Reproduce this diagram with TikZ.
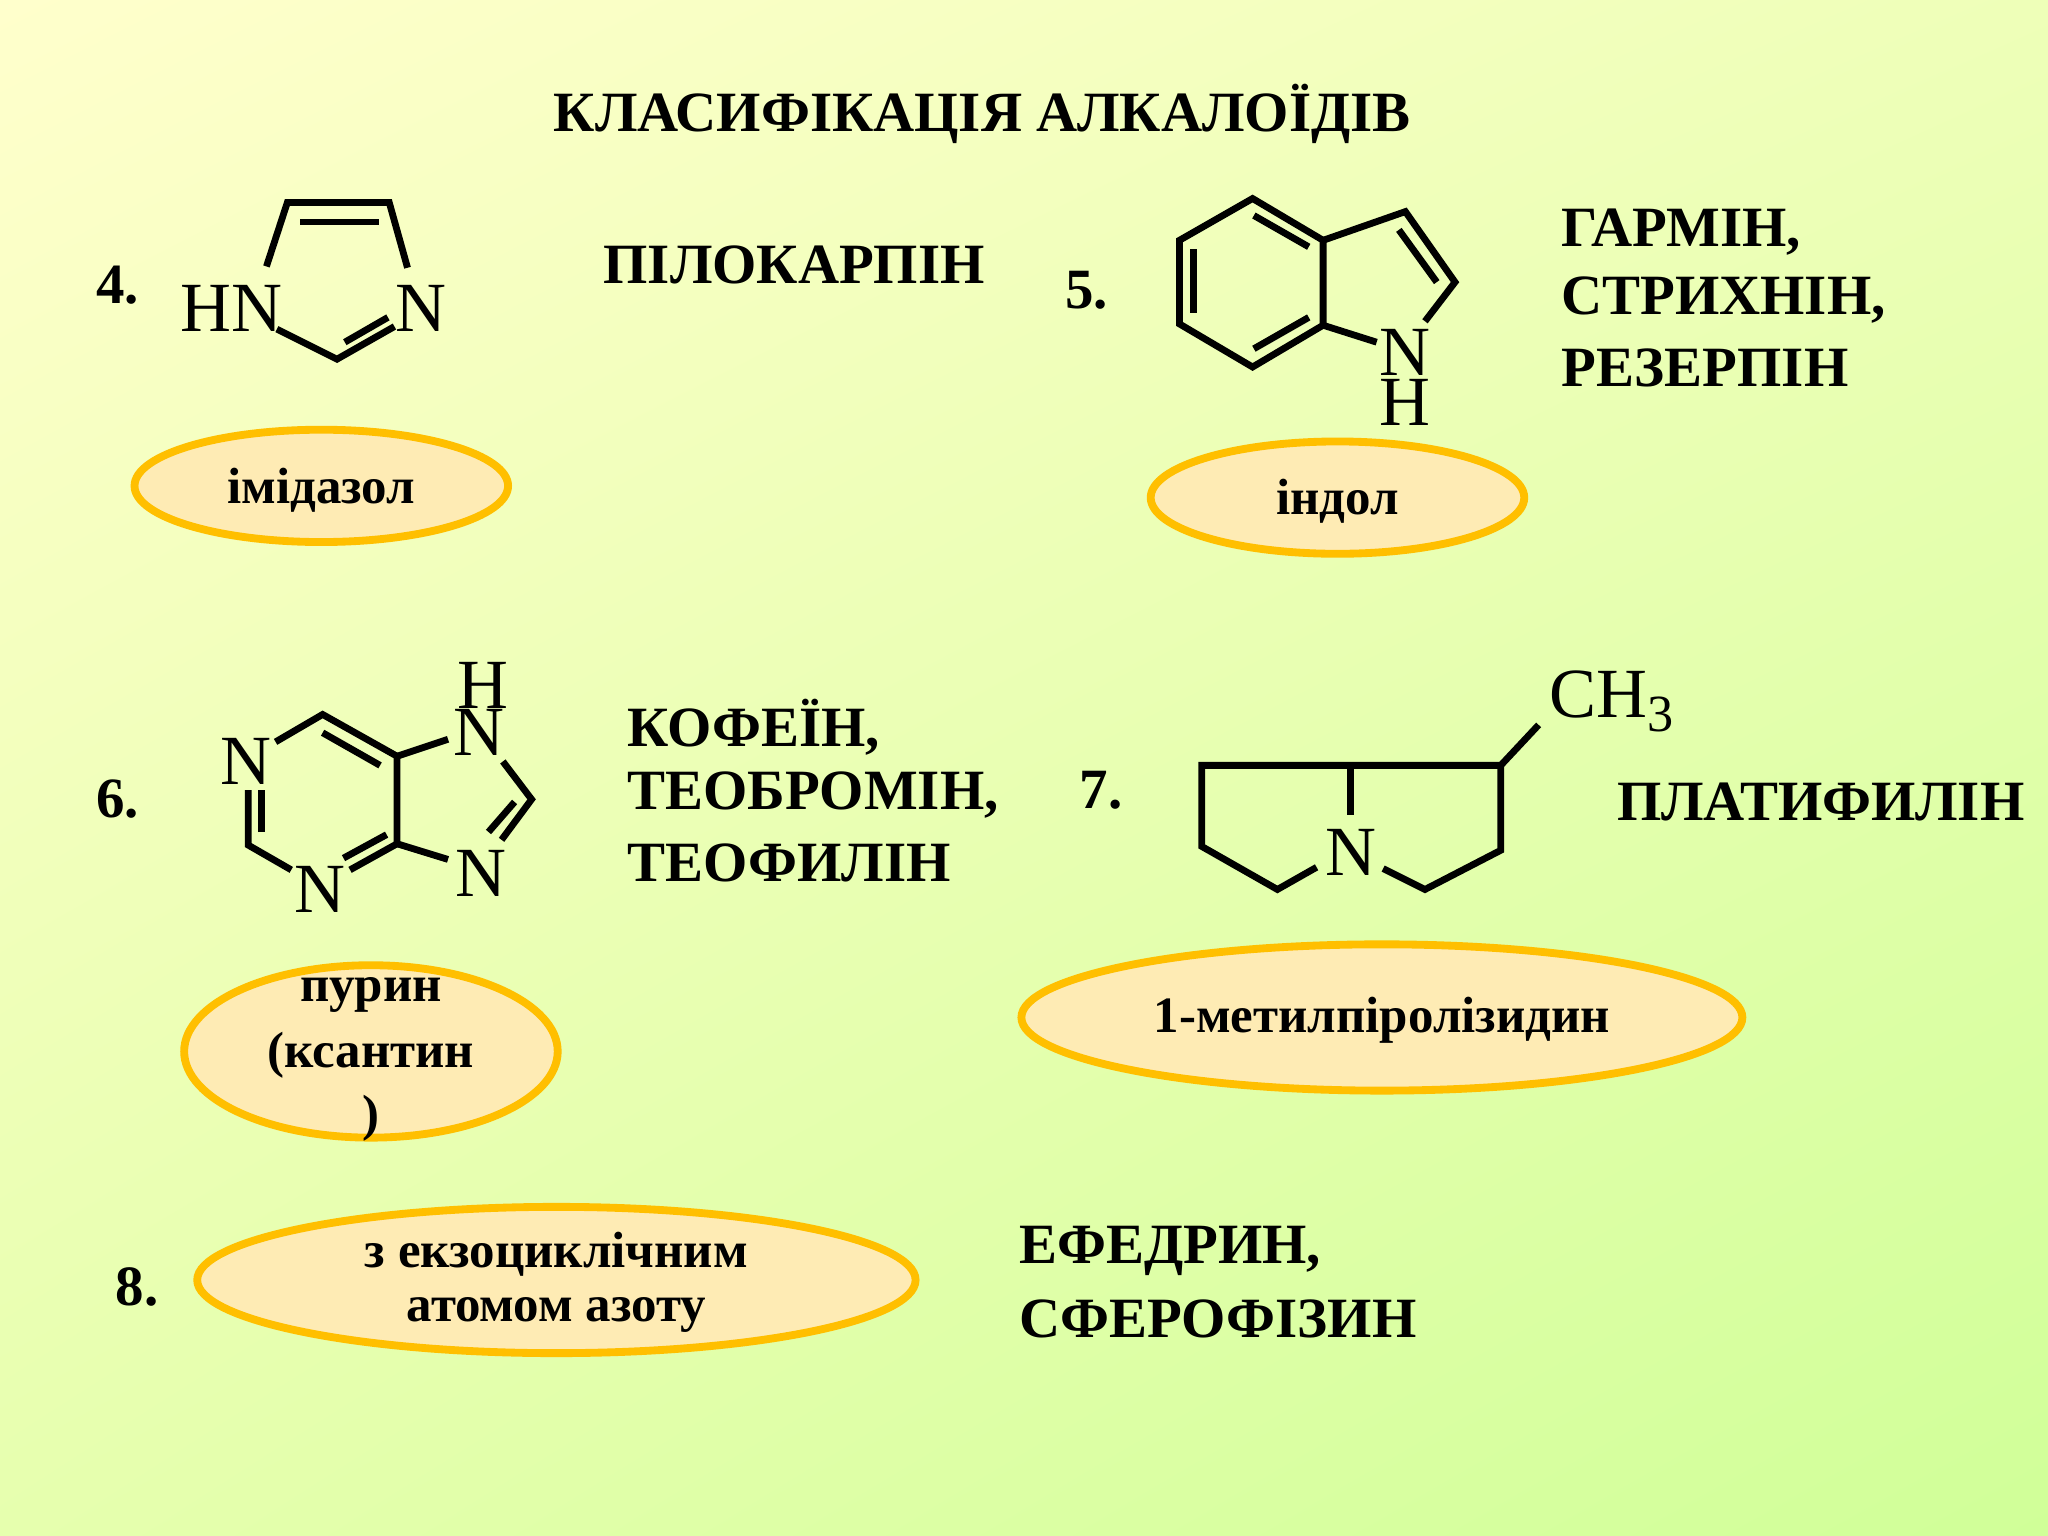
\documentclass[tikz,border=0pt]{standalone}
\usepackage{fontspec}
\setmainfont{Liberation Serif}
\usetikzlibrary{shadings}
\begin{document}
\begin{tikzpicture}[x=0.5pt,y=-0.5pt,
  bd/.style={line width=2.6pt},
  lbl/.style={font=\bfseries\fontsize{21.8}{24}\selectfont,inner sep=0pt},
  lbll/.style={lbl,anchor=west},
  atm/.style={font=\fontsize{27}{28}\selectfont,inner sep=0pt},
  ell/.style={draw=elline,fill=elfill,line width=3pt},
  etx/.style={font=\bfseries\fontsize{19.5}{22}\selectfont,inner sep=0pt}]
\definecolor{elfill}{HTML}{FEEBB4}\definecolor{elline}{HTML}{FFBF00}
\definecolor{bgA}{HTML}{FFFFCC}\definecolor{bgB}{HTML}{EEFFB8}
\definecolor{bgC}{HTML}{E6FFAE}\definecolor{bgD}{HTML}{D0FF98}
\shade[upper left=bgA,upper right=bgB,lower left=bgC,lower right=bgD] (0,0) rectangle (1568,1176);
\useasboundingbox (0,0) rectangle (1568,1176);
\node[lbl] (title) at (752,87) {КЛАСИФІКАЦІЯ АЛКАЛОЇДІВ};
% 4 imidazole
\node[lbl] (n4) at (90,218) {4.};
\node[atm] (hn) at (177,236) {HN};
\node[atm] (n3) at (322,236) {N};
\coordinate (i1) at (220,155);\coordinate (i2) at (298,155);\coordinate (i3) at (258,275);
\draw[bd] (204,204) -- (i1) -- (i2) -- (312,205);
\draw[bd] (230,170) -- (290,170);
\draw[bd] (212,252) -- (i3) -- (302,250);
\draw[bd] (264,262) -- (297,243);
\node[lbl] (pil) at (608,203) {ПІЛОКАРПІН};
\draw[ell] (246,372) ellipse [x radius=143,y radius=43];
\node[etx] (e1) at (246,375) {імідазол};
% 5 indole
\node[lbl] (n5) at (832,222) {5.};
\coordinate (b1) at (959,152);\coordinate (b2) at (1013,184);\coordinate (b3) at (1013,249);
\coordinate (b4) at (959,281);\coordinate (b5) at (903,248);\coordinate (b6) at (903,184);
\coordinate (p3) at (1076,162);\coordinate (p2) at (1114,216);
\draw[bd,line join=miter] (b2) -- (b1) -- (b6) -- (b5) -- (b4) -- (b3) -- cycle;
\draw[bd] (b2) -- (p3) -- (p2) -- (1091,246);
\draw[bd] (b3) -- (1054,262);
\draw[bd] (960,165) -- (1002,189);
\draw[bd] (914,191) -- (914,240);
\draw[bd] (960,267) -- (1002,243);
\draw[bd] (1071,176) -- (1100,216);
\node[atm] (in) at (1076,270) {N};
\node[atm] (ih) at (1076,308) {H};
\node[lbll] (g1) at (1195,178) {ГАРМІН,};
\node[lbll] (g2) at (1195,230) {СТРИХНІН,};
\node[lbll] (g3) at (1195,282) {РЕЗЕРПІН};
\draw[ell] (1024,381) ellipse [x radius=143,y radius=43];
\node[etx] (e2) at (1024,384) {індол};
% 6 purine
\node[lbl] (n6) at (90,612) {6.};
\node[atm] (pn1) at (188,583) {N};
\node[atm] (pn3) at (245,681) {N};
\node[atm] (pn7) at (367,561) {N};
\node[atm] (ph) at (370,525) {H};
\node[atm] (pn9) at (368,669) {N};
\coordinate (c2) at (190,647);\coordinate (c4) at (304,646);
\coordinate (c5) at (304,579);\coordinate (c6) at (247,547);\coordinate (c8) at (407,612);
\draw[bd] (211,568) -- (c6) -- (c5) -- (c4) -- (268,666);
\draw[bd] (247,561) -- (291,586);
\draw[bd] (263,657) -- (296,639);
\draw[bd] (223,666) -- (c2) -- (190,605);
\draw[bd] (200,637) -- (200,605);
\draw[bd] (c5) -- (343,566);
\draw[bd] (385,583) -- (c8) -- (384,643);
\draw[bd] (394,614) -- (374,637);
\draw[bd] (c4) -- (343,658);
\node[lbll] (k1) at (480,557) {КОФЕЇН,};
\node[lbll] (k2) at (480,609) {ТЕОБРОМІН,};
\node[lbll] (k3) at (480,661) {ТЕОФИЛІН};
\draw[ell] (284,805) ellipse [x radius=143,y radius=66];
\node[etx] (e3a) at (284,762) {пурин};
\node[etx] (e3b) at (284,808) {(ксантин};
\node[etx] (e3c) at (284,856) {)};
% 7 pyrrolizidine
\node[lbl] (n7) at (843,605) {7.};
\coordinate (q1) at (920,586);\coordinate (q2) at (1034,586);\coordinate (q3) at (1149,586);
\coordinate (q4) at (920,648);\coordinate (q5) at (978,681);\coordinate (q6) at (1091,681);
\coordinate (q7) at (1149,651);
\draw[bd] (1008,664) -- (q5) -- (q4) -- (q1) -- (q3) -- (q7) -- (q6) -- (1059,665);
\draw[bd] (q2) -- (1034,624);
\draw[bd] (q3) -- (1178,555);
\node[atm] (qn) at (1034,653) {N};
\node[atm,anchor=west] (ch3) at (1186,537) {CH\raisebox{-0.45ex}{\fontsize{20}{20}\selectfont 3}};
\node[lbl] (pl) at (1394,614) {ПЛАТИФИЛІН};
\draw[ell] (1058,779) ellipse [x radius=276,y radius=56];
\node[etx] (e4) at (1058,781) {1-метилпіролізидин};
% 8
\node[lbl] (n8) at (105,985) {8.};
\draw[ell] (426,980) ellipse [x radius=275,y radius=56];
\node[etx] (e5a) at (426,960) {з екзоциклічним};
\node[etx] (e5b) at (426,1007) {атомом азоту};
\node[lbll] (f1) at (780,958) {ЕФЕДРИН,};
\node[lbll] (f2) at (780,1010) {СФЕРОФІЗИН};
\end{tikzpicture}
\end{document}
